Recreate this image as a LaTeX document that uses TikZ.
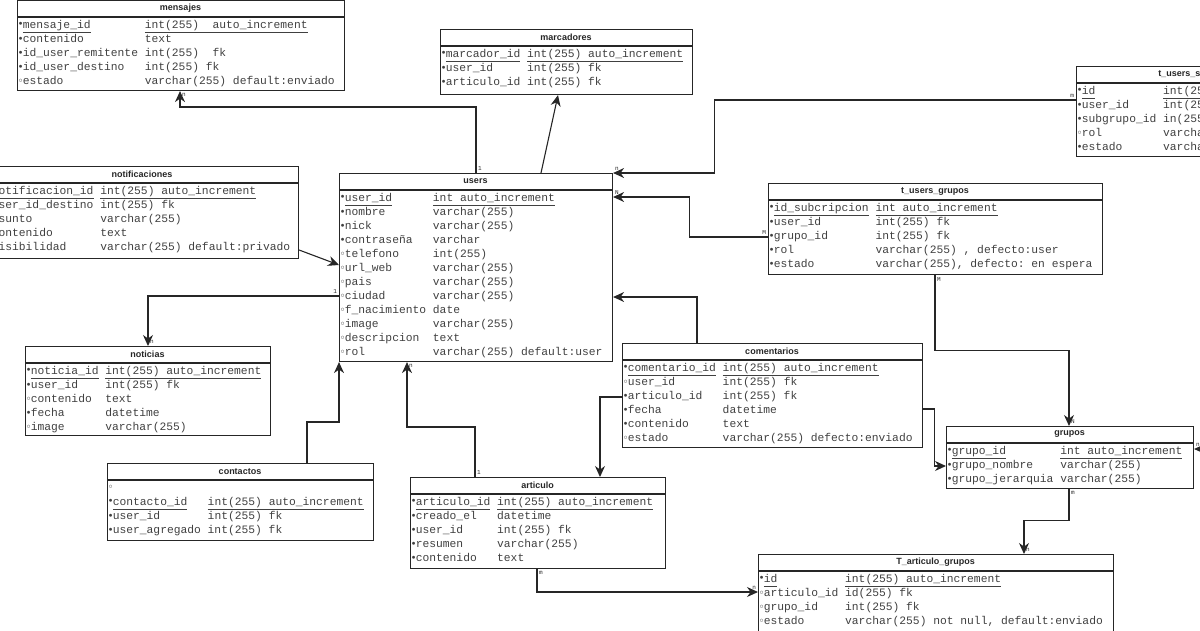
\documentclass[tikz,border=0pt]{standalone}
\usepackage{fontspec}
\setmainfont{Liberation Serif}
\setsansfont{Liberation Sans}
\setmonofont{Liberation Mono}
\usetikzlibrary{arrows.meta,calc}

% row markers
\newcommand\mf{\raisebox{0.4ex}{\scriptsize$\bullet$}}
\newcommand\mo{\raisebox{0.4ex}{\scriptsize$\circ$}}
\newcommand\ul[1]{\underline{\raisebox{0pt}[\height][0pt]{#1}\rule[-3pt]{0pt}{1pt}}}

% entity box: name, x1, y1, x2, y2, title, rows
\newcommand\entity[7]{%
  \node[ebox, minimum width={(#4-#2)*1pt}, minimum height={(#5-#3)*1pt}] (#1) at (#2,#3) {};
  \draw[black!85, line width=1.1pt] (#2,{#3+17}) -- (#4,{#3+17});
  \node[etitle] at ({(#2+#4)/2},{#3+8.5}) {#6};
  \node[erows] at (#2,{#3+17}) {\begin{tabular}{@{}l@{\ }l@{}}#7\end{tabular}};
}

\begin{document}
\begin{tikzpicture}[x=1pt, y=-1pt,
    ebox/.style={draw=black!85, line width=1.1pt, anchor=north west, inner sep=0pt},
    etitle/.style={font=\sffamily\bfseries\fontsize{9}{10}\selectfont, text=black!85},
    erows/.style={anchor=north west, inner xsep=1.5pt, inner ysep=1pt, text=black!75,
      font=\ttfamily\fontsize{11.3}{14}\selectfont},
    arr/.style={-{Stealth[length=11pt, width=10pt]}, line width=1.1pt, black!85},
    lbl/.style={font=\ttfamily\fontsize{6}{7}\selectfont, inner sep=1.5pt}
]
\useasboundingbox (0,0) rectangle (1200,630);
\clip (0,0) rectangle (1200,630);

% === Entities ===
\entity{mensajes}{17}{0}{344}{90}{mensajes}{%
  \mf\ul{mensaje\_id} & \ul{int(255)~~auto\_increment}\\
  \mf{}contenido & text\\
  \mf{}id\_user\_remitente & int(255)~~fk\\
  \mf{}id\_user\_destino & int(255) fk\\
  \mo{}estado & varchar(255) default:enviado}

\entity{marcadores}{440}{29}{692}{94}{marcadores}{%
  \mf\ul{marcador\_id} & \ul{int(255) auto\_increment}\\
  \mf{}user\_id & int(255) fk\\
  \mf{}articulo\_id & int(255) fk}

\entity{notif}{-14}{166}{298}{258}{notificaciones}{%
  \mf\ul{notificacion\_id} & \ul{int(255) auto\_increment}\\
  \mf{}user\_id\_destino & int(255) fk\\
  \mf{}asunto & varchar(255)\\
  \mf{}contenido & text\\
  \mf{}visibilidad & varchar(255) default:privado}

\entity{users}{339}{173}{612}{361}{users}{%
  \mf\ul{user\_id} & \ul{int auto\_increment}\\
  \mf{}nombre & varchar(255)\\
  \mf{}nick & varchar(255)\\
  \mf{}contraseña & varchar\\
  \mo{}telefono & int(255)\\
  \mo{}url\_web & varchar(255)\\
  \mo{}pais & varchar(255)\\
  \mo{}ciudad & varchar(255)\\
  \mo{}f\_nacimiento & date\\
  \mo{}image & varchar(255)\\
  \mo{}descripcion & text\\
  \mo{}rol & varchar(255) default:user}

\entity{tus}{1076}{66}{1324}{156}{t\_users\_subgrupos}{%
  \mf\ul{id} & \ul{int(255) auto\_increment}\\
  \mf{}user\_id & int(255) fk\\
  \mf{}subgrupo\_id & in(255) fk\\
  \mo{}rol & varchar(255)\\
  \mf{}estado & varchar(255)}

\entity{tug}{768}{183}{1102}{274}{t\_users\_grupos}{%
  \mf\ul{id\_subcripcion} & \ul{int auto\_increment}\\
  \mf{}user\_id & int(255) fk\\
  \mf{}grupo\_id & int(255) fk\\
  \mf{}rol & varchar(255) , defecto:user\\
  \mf{}estado & varchar(255), defecto: en espera}

\entity{noticias}{25}{346}{270}{435}{noticias}{%
  \mf\ul{noticia\_id} & \ul{int(255) auto\_increment}\\
  \mf{}user\_id & int(255) fk\\
  \mo{}contenido & text\\
  \mf{}fecha & datetime\\
  \mo{}image & varchar(255)}

\entity{coment}{622}{343}{922}{447}{comentarios}{%
  \mf\ul{comentario\_id} & \ul{int(255) auto\_increment}\\
  \mo{}user\_id & int(255) fk\\
  \mf{}articulo\_id & int(255) fk\\
  \mf{}fecha & datetime\\
  \mf{}contenido & text\\
  \mo{}estado & varchar(255) defecto:enviado}

\entity{grupos}{946}{426}{1193}{488}{grupos}{%
  \mf\ul{grupo\_id} & \ul{int auto\_increment}\\
  \mf{}grupo\_nombre & varchar(255)\\
  \mf{}grupo\_jerarquia & varchar(255)}

\entity{tag}{758}{554}{1113}{640}{T\_articulo\_grupos}{%
  \mf\ul{id} & \ul{int(255) auto\_increment}\\
  \mo{}articulo\_id & id(255) fk\\
  \mo{}grupo\_id & int(255) fk\\
  \mo{}estado & varchar(255) not null, default:enviado}

\entity{contactos}{107}{463}{373}{540}{contactos}{%
  \mo & \\
  \mf\ul{contacto\_id} & \ul{int(255) auto\_increment}\\
  \mf{}user\_id & int(255) fk\\
  \mf{}user\_agregado & int(255) fk}

\entity{articulo}{410}{477}{665}{568}{articulo}{%
  \mf\ul{articulo\_id} & \ul{int(255) auto\_increment}\\
  \mf{}creado\_el & datetime\\
  \mf{}user\_id & int(255) fk\\
  \mf{}resumen & varchar(255)\\
  \mf{}contenido & text}

% === Relations ===
\draw[arr] ([xshift=137pt]users.north west) node[lbl, above right] {1}
  -- ++(0,-66) -| ([xshift=163pt]mensajes.south west) node[lbl, below right] {n};
\draw[arr] ([xshift=202pt]users.north west) -- ([xshift=118pt]marcadores.south west);
\draw[arr] ([yshift=-34pt]tus.north west) node[lbl, above left] {m}
  -| ([xshift=101pt]users.north east) -- (users.north east) node[lbl, above right] {n};
\draw[arr] ([yshift=-54pt]tug.north west) node[lbl, above left] {M}
  -| ([xshift=76pt, yshift=-24pt]users.north east) -- ([yshift=-24pt]users.north east) node[lbl, above right] {N};
\draw[arr] ([xshift=75pt]coment.north west) |- ([yshift=-124pt]users.north east);
\draw[arr] ([yshift=-84pt]notif.north east) -- ([yshift=-92pt]users.north west);
\draw[arr] ([yshift=-123pt]users.north west) node[lbl, above left] {1}
  -| ([xshift=123pt]noticias.north west) node[lbl, above right] {n};
\draw[arr] ([xshift=200pt]contactos.north west) -- ++(0,-41) -| (users.south west);
\draw[arr] ([xshift=65pt]articulo.north west) node[lbl, above right] {1}
  -- ++(0,-50) -| ([xshift=68pt]users.south west) node[lbl, below right] {n};
\draw[arr] ([yshift=-54pt]coment.north west) -| ([xshift=190pt]articulo.north west);
\draw[arr] ([xshift=167pt]tug.south west) node[lbl, below right] {M}
  -- ++(0,75) -| ([xshift=123pt]grupos.north west) node[lbl, above right] {N};
\draw[arr] ([yshift=-66pt]coment.north east) -- ++(11,0) |- ([yshift=-40pt]grupos.north west);
\draw[arr] ([xshift=123pt]grupos.south west) node[lbl, below right] {m}
  -- ++(0,31) -| ([xshift=266pt]tag.north west) node[lbl, above right] {n};
\draw[arr] ([xshift=127pt]articulo.south west) node[lbl, below right] {m}
  |- ([yshift=-38pt]tag.north west) node[lbl, above left] {n};
\coordinate (redge) at (1210,449);
\draw[arr] (redge) -- (redge -| grupos.east) node[lbl, above right] {n};

\end{tikzpicture}
\end{document}
